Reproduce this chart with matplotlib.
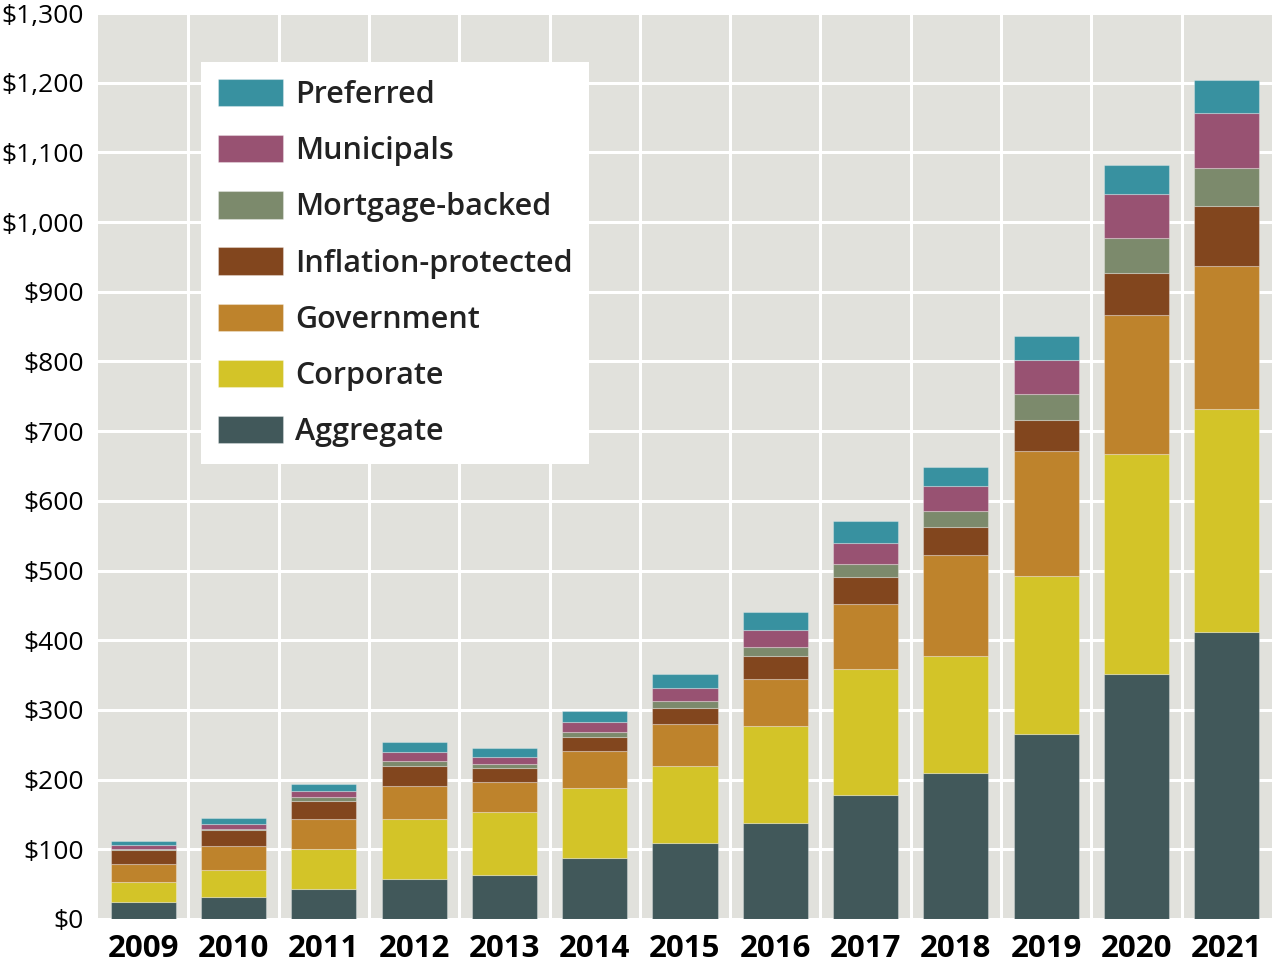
import numpy as np
import matplotlib
matplotlib.use('Agg')
import matplotlib.pyplot as plt
from matplotlib.ticker import FuncFormatter, MultipleLocator

plt.rcParams['font.family'] = ['Open Sans', 'DejaVu Sans']

years = ['2009', '2010', '2011', '2012', '2013', '2014', '2015',
         '2016', '2017', '2018', '2019', '2020', '2021']

aggregate = [24, 31, 43.5, 57, 63.5, 87.5, 109, 138, 177.5, 209, 265, 351.5, 412]
corporate = [29, 40, 57.5, 87, 90, 100.5, 110.5, 139, 181.5, 168, 227, 315.5, 320]
government = [26, 34, 43, 47, 43, 52.5, 60.5, 68, 93, 145, 179, 199.5, 205]
inflation = [20, 22, 26, 29, 20, 20, 22.5, 33, 38.5, 40, 45, 60.5, 86]
mortgage = [1.5, 2, 5, 6, 5.5, 8, 10, 12.5, 18.5, 23, 38, 50, 54]
municipals = [6, 8, 8, 13, 10, 14.5, 18.5, 24.5, 30.5, 37, 48, 63.5, 80]
preferred = [6, 8, 10, 15, 13, 16, 21, 26, 31.5, 26, 35, 41.5, 47]

names = ['Aggregate', 'Corporate', 'Government', 'Inflation-protected',
         'Mortgage-backed', 'Municipals', 'Preferred']
series = [aggregate, corporate, government, inflation, mortgage, municipals, preferred]
colors = ['#41585A', '#D3C428', '#BE832C', '#82461E', '#7C8A6C', '#985272', '#3891A0']

fig = plt.figure(figsize=(12.72, 9.64), dpi=100)
ax = fig.add_axes([98 / 1272, 1 - 919 / 964, 1 - 98 / 1272, (919 - 13) / 964])
ax.set_facecolor('#E1E1DC')

x = np.arange(len(years))
bottom = np.zeros(len(years))
handles = []
for name, vals, c in zip(names, series, colors):
    vals = np.array(vals, dtype=float)
    b = ax.bar(x, vals, 0.72, bottom=bottom, color=c, label=name,
               edgecolor=(1, 1, 1, 0.3), linewidth=0.8, zorder=3)
    handles.append(b)
    bottom += vals

ax.set_xlim(-0.5, len(years) - 0.5)
ax.set_ylim(0, 1300)
ax.yaxis.set_major_locator(MultipleLocator(100))
ax.yaxis.set_major_formatter(FuncFormatter(lambda v, p: '${:,.0f}'.format(v)))
ax.set_xticks(x)
ax.set_xticklabels(years, fontsize=22.5, fontweight='bold')
ax.set_xticks(x[:-1] + 0.5, minor=True)
ax.tick_params(axis='x', which='both', length=0, pad=11)
ax.tick_params(axis='y', length=0, pad=10, labelsize=19)
ax.grid(axis='y', color='white', linewidth=2.2, zorder=1)
ax.grid(axis='x', which='minor', color='white', linewidth=2.2, zorder=1)
ax.grid(axis='x', which='major', visible=False)
for s in ax.spines.values():
    s.set_visible(False)

leg = ax.legend(handles[::-1], names[::-1], loc='upper left',
                bbox_to_anchor=((201 - 98) / 1174, (919 - 62) / 906),
                borderaxespad=0, fontsize=22, frameon=True, fancybox=False,
                handlelength=2.12, handleheight=1.0, handletextpad=0.4,
                labelspacing=0.82, borderpad=0.55)
leg.get_frame().set_facecolor('white')
leg.get_frame().set_edgecolor('none')
leg.get_frame().set_alpha(1)
for t in leg.get_texts():
    t.set_fontweight('semibold')
    t.set_color('#222222')
leg.set_zorder(5)

fig.savefig('out.png', dpi=100)
